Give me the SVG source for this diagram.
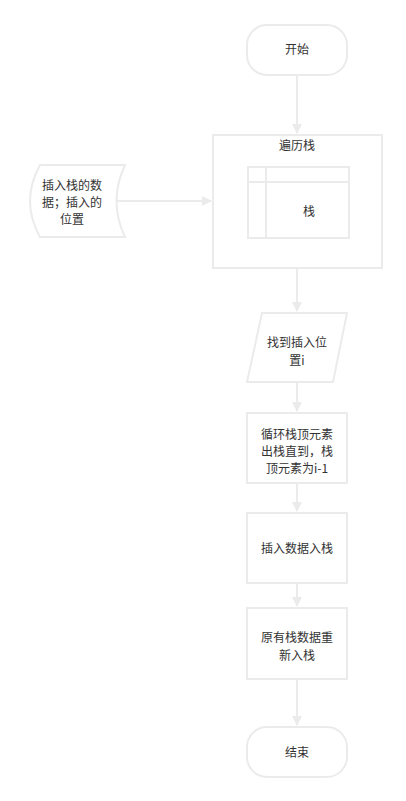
<svg xmlns="http://www.w3.org/2000/svg" width="406" height="801" viewBox="0 0 406 801">
<style>
.s{fill:#ffffff;stroke:#ebebeb;stroke-width:2}
.l{fill:none;stroke:#ebebeb;stroke-width:2}
text{font-family:"Noto Sans CJK SC","Noto Sans",sans-serif;font-size:12px;fill:#333333;text-anchor:middle}
</style>
<defs>
<marker id="a" viewBox="0 0 10 10" refX="9" refY="5" markerWidth="5" markerHeight="5" orient="auto" markerUnits="strokeWidth">
<path d="M0,0 L10,5 L0,10 z" fill="#ebebeb"/>
</marker>
</defs>
<rect width="406" height="801" fill="#ffffff"/>
<g id="connectors">
<line class="l" x1="297" y1="75" x2="297" y2="133" marker-end="url(#a)"/>
<line class="l" x1="117" y1="201" x2="211" y2="201" marker-end="url(#a)"/>
<line class="l" x1="297" y1="268" x2="297" y2="311" marker-end="url(#a)"/>
<line class="l" x1="297" y1="382" x2="297" y2="411" marker-end="url(#a)"/>
<line class="l" x1="297" y1="483" x2="297" y2="511" marker-end="url(#a)"/>
<line class="l" x1="297" y1="583" x2="297" y2="606" marker-end="url(#a)"/>
<line class="l" x1="297" y1="679" x2="297" y2="725" marker-end="url(#a)"/>
</g>
<g id="start">
<rect class="s" x="247" y="25" width="100" height="50" rx="20" ry="20"/>
<text x="297" y="54">开始</text>
</g>
<g id="container">
<rect class="s" x="213" y="135" width="169" height="133"/>
<text x="297" y="150">遍历栈</text>
</g>
<g id="stack">
<rect class="s" x="248" y="167" width="101" height="71"/>
<line class="l" x1="248" y1="182" x2="349" y2="182"/>
<line class="l" x1="266" y1="167" x2="266" y2="238"/>
<text x="309" y="216">栈</text>
</g>
<g id="data">
<path class="s" d="M40,165 L125,165 Q108,201 125,237 L40,237 Q20,201 40,165 Z"/>
<text x="72" y="190">插入栈的数</text>
<text x="72" y="207">据；插入的</text>
<text x="72" y="224">位置</text>
</g>
<g id="find">
<path class="s" d="M262,313 L347,313 L333,382 L247,382 Z"/>
<text x="297" y="347">找到插入位</text>
<text x="297" y="365">置i</text>
</g>
<g id="loop">
<rect class="s" x="247" y="413" width="100" height="70"/>
<text x="297" y="439">循环栈顶元素</text>
<text x="297" y="456">出栈直到，栈</text>
<text x="297" y="473">顶元素为i-1</text>
</g>
<g id="insert">
<rect class="s" x="247" y="513" width="100" height="70"/>
<text x="297" y="553">插入数据入栈</text>
</g>
<g id="reinsert">
<rect class="s" x="247" y="608" width="100" height="71"/>
<text x="297" y="642">原有栈数据重</text>
<text x="297" y="660">新入栈</text>
</g>
<g id="end">
<rect class="s" x="247" y="727" width="100" height="50" rx="20" ry="20"/>
<text x="297" y="757">结束</text>
</g>
</svg>
